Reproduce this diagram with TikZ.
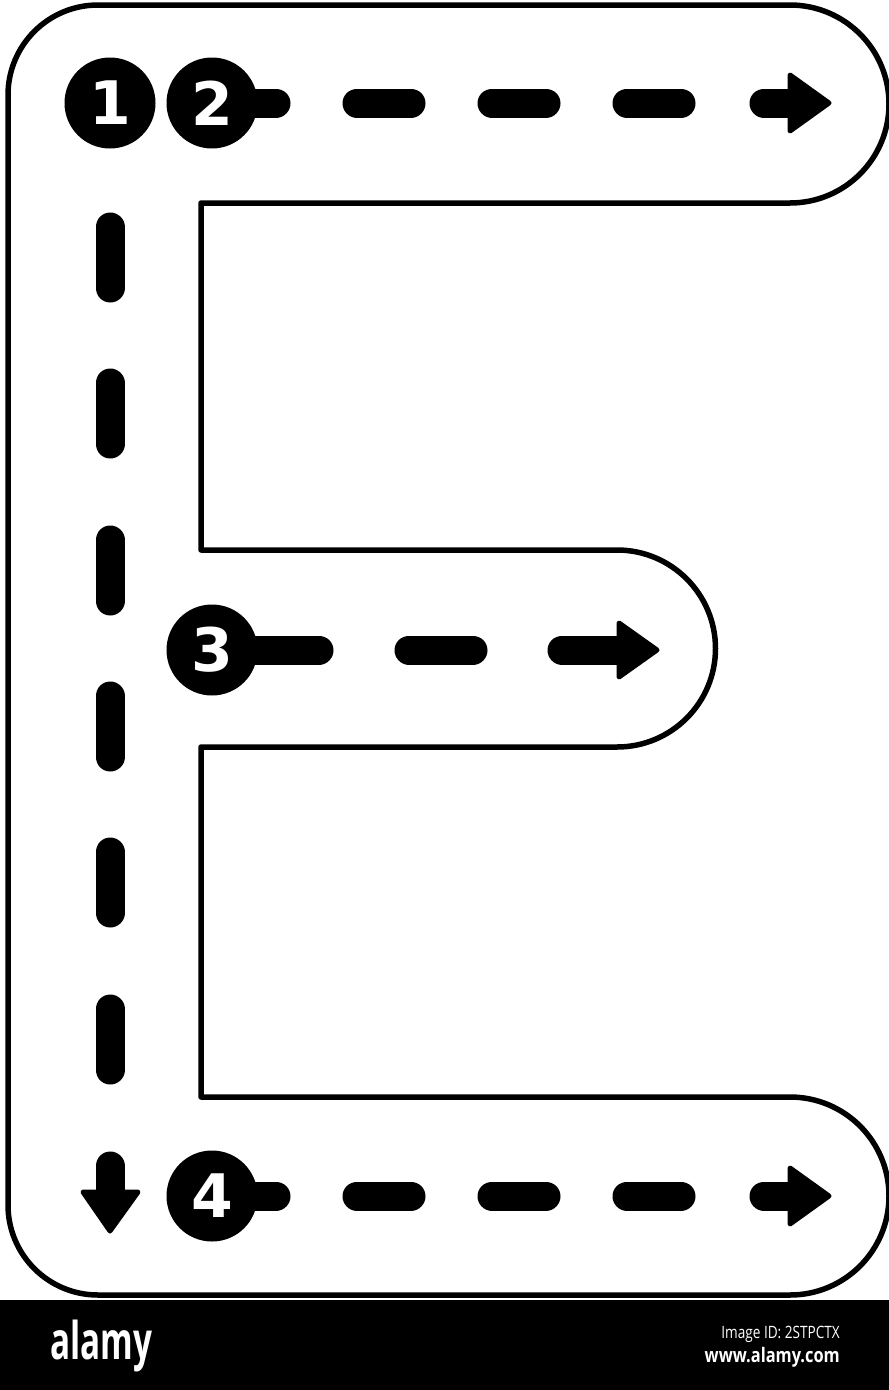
\documentclass[tikz,border=0pt]{standalone}
\usepackage{fontspec}
\newfontfamily\numfont{DejaVu Sans}
\newfontfamily\wmfont{Open Sans}
\begin{document}
\begin{tikzpicture}[x=1pt,y=-1pt,
  outline/.style={line width=5.5pt,line join=round},
  trace/.style={line width=29pt,line cap=round},
  headtri/.style={fill=black,draw=black,line width=5pt,line join=round},
  numcirc/.style={circle,fill=black,minimum size=91pt,inner sep=0pt,text=white,font=\numfont\bfseries\fontsize{60}{60}\selectfont}]
\useasboundingbox (0,0) rectangle (889,1390);
% outline of the letter E
\draw[outline] (8,95) -- (8,1205) arc[start angle=180,end angle=270,radius=90pt]
  -- (790,1295) arc[start angle=270,end angle=450,radius=99pt]
  -- (201,1097) -- (201,747) -- (617,747)
  arc[start angle=270,end angle=450,radius=98.5pt]
  -- (201,550) -- (201,203) -- (790,203)
  arc[start angle=270,end angle=450,radius=99pt]
  -- (98,5) arc[start angle=90,end angle=180,radius=90pt] -- cycle;
% vertical dashes
\foreach \y in {227,383,540,696,852,1009} {
  \draw[trace] (110,\y) -- (110,\y+61);
}
% down arrow
\coordinate (dS) at (110,1166);
\coordinate (dE) at (110,1196);
\draw[trace] (dS) -- (dE);
\filldraw[headtri] (83,1192) -- (138,1192) -- (110,1231) -- cycle;
% top row
\node[numcirc] (c1) at (110,103) {1};
\coordinate (t0) at (276,103);
\draw[trace] (212,103) -- (t0);
\node[numcirc] (c2) at (212,103) {2};
\foreach \x in {357,492,627} {
  \draw[trace] (\x,103) -- (\x+54,103);
}
\draw[trace] (764,103) -- (792,103);
\filldraw[headtri] (790,75) -- (790,131) -- (829,103) -- cycle;
% middle row
\coordinate (m0) at (319,650);
\draw[trace] (212,650) -- (m0);
\node[numcirc] (c3) at (212,650) {3};
\draw[trace] (409,650) -- (473,650);
\draw[trace] (562,650) -- (620,650);
\filldraw[headtri] (619,623) -- (619,677) -- (657,650) -- cycle;
% bottom row
\coordinate (b0) at (276,1196);
\draw[trace] (212,1196) -- (b0);
\node[numcirc] (c4) at (212,1196) {4};
\foreach \x in {357,492,627} {
  \draw[trace] (\x,1196) -- (\x+54,1196);
}
\draw[trace] (764,1196) -- (792,1196);
\filldraw[headtri] (790,1168) -- (790,1224) -- (829,1196) -- cycle;
% watermark bar
\fill[black] (0,1300) rectangle (889,1390);
\node[anchor=base west,inner sep=0pt,text=white,font=\wmfont\bfseries\fontsize{52}{52}\selectfont] (al) at (50,1359) {\scalebox{0.64}[1]{alamy}};
\node[anchor=base east,inner sep=0pt,text=white,font=\wmfont\fontsize{17}{17}\selectfont] (id) at (840,1338) {\scalebox{0.8}[1]{Image ID: 2STPCTX}};
\node[anchor=base east,inner sep=0pt,text=white,font=\wmfont\bfseries\fontsize{20}{20}\selectfont] (www) at (840,1362) {\scalebox{0.82}[1]{www.alamy.com}};
\end{tikzpicture}
\end{document}
